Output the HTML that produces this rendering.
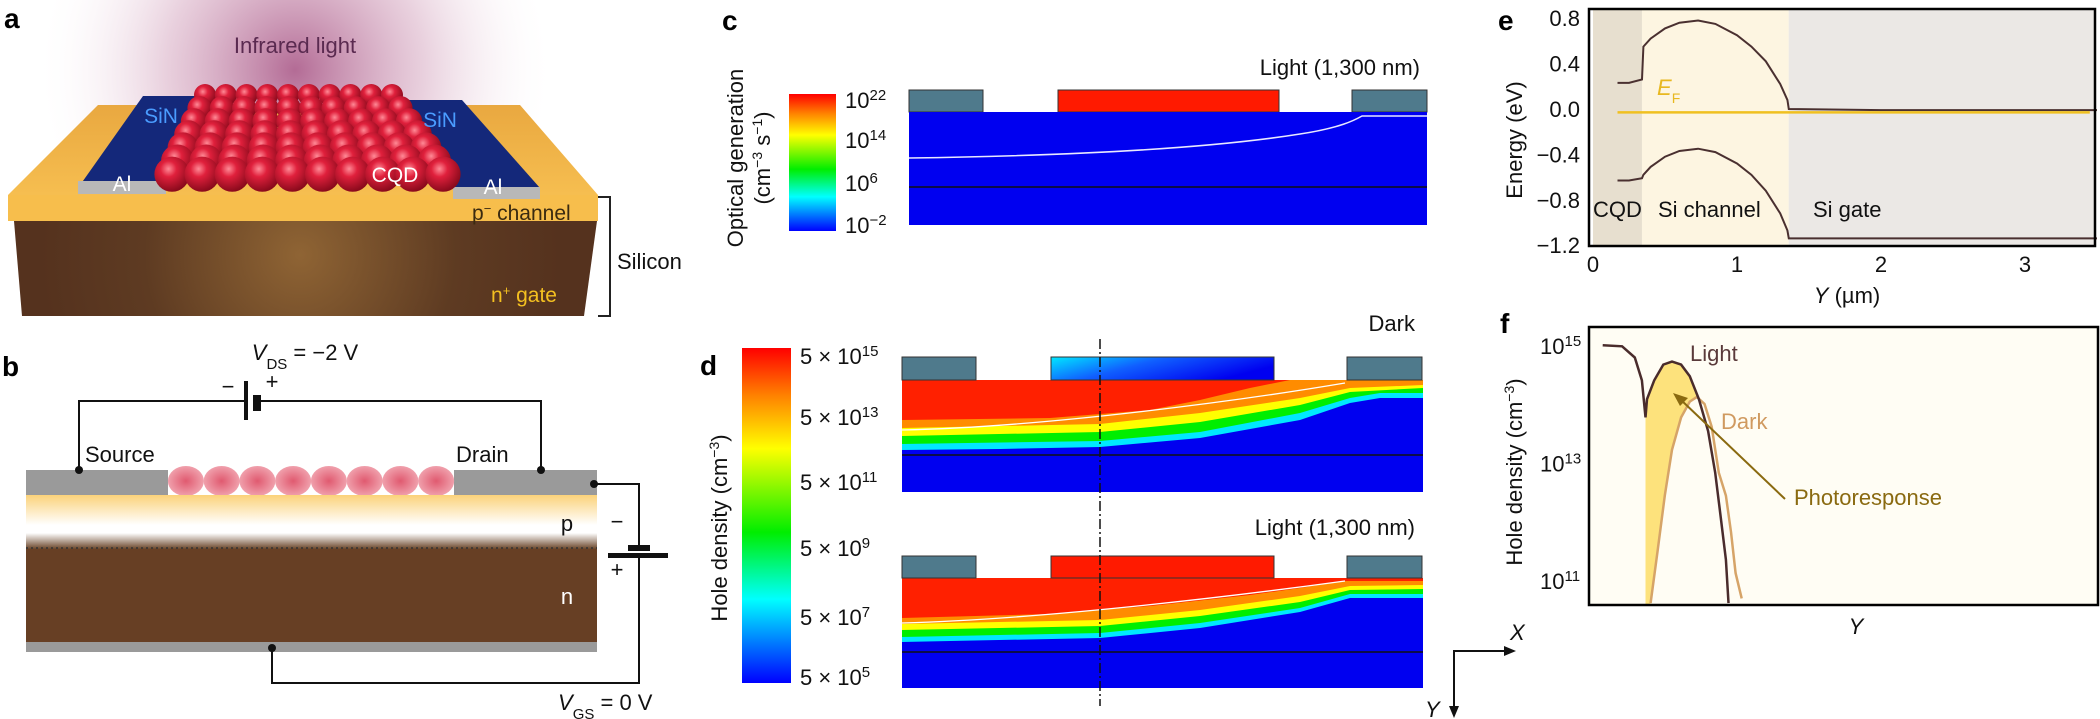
<!DOCTYPE html>
<html><head><meta charset="utf-8">
<style>
html,body{margin:0;padding:0;background:#fff;}
svg{display:block;font-family:"Liberation Sans",Arial,sans-serif;}
.t{font-size:22px;fill:#111;}
.lbl{font-size:28px;font-weight:bold;fill:#000;}
</style></head>
<body>
<svg id="fig" width="2100" height="719" viewBox="0 0 2100 719" xmlns="http://www.w3.org/2000/svg">
<defs>
<radialGradient id="glow" cx="295" cy="70" r="260" gradientUnits="userSpaceOnUse">
<stop offset="0" stop-color="#9a3a72" stop-opacity="0.75"/>
<stop offset="0.5" stop-color="#c07aa0" stop-opacity="0.35"/>
<stop offset="1" stop-color="#ffffff" stop-opacity="0"/>
</radialGradient>
<radialGradient id="brown" cx="300" cy="255" r="260" gradientUnits="userSpaceOnUse">
<stop offset="0" stop-color="#8f6434"/><stop offset="0.6" stop-color="#5e3b22"/><stop offset="1" stop-color="#55321e"/>
</radialGradient>
<linearGradient id="topY" x1="0" y1="0" x2="0" y2="1"><stop offset="0" stop-color="#e9a840"/><stop offset="1" stop-color="#f6be50"/></linearGradient>
<radialGradient id="sph" cx="0.4" cy="0.35" r="0.65"><stop offset="0" stop-color="#ff8a96"/><stop offset="0.35" stop-color="#e0203c"/><stop offset="1" stop-color="#8a0a1c"/></radialGradient>
<radialGradient id="ell" cx="0.5" cy="0.5" r="0.5"><stop offset="0" stop-color="#e05a70"/><stop offset="1" stop-color="#f0a0ac"/></radialGradient>
<linearGradient id="yb" x1="0" y1="0" x2="0" y2="1"><stop offset="0" stop-color="#fbd27a"/><stop offset="1" stop-color="#ffffff"/></linearGradient>
<linearGradient id="bb" x1="0" y1="0" x2="0" y2="1"><stop offset="0" stop-color="#ffffff"/><stop offset="1" stop-color="#6a4428"/></linearGradient>
<linearGradient id="jet" x1="0" y1="0" x2="0" y2="1">
<stop offset="0" stop-color="#ff0000"/><stop offset="0.14" stop-color="#ff8000"/><stop offset="0.3" stop-color="#ffff00"/><stop offset="0.55" stop-color="#00ee00"/><stop offset="0.75" stop-color="#00ffff"/><stop offset="1" stop-color="#0000ff"/>
</linearGradient>
<linearGradient id="cyanblk" x1="0" y1="0" x2="1" y2="0.4"><stop offset="0" stop-color="#00e8ff"/><stop offset="0.45" stop-color="#1060ff"/><stop offset="1" stop-color="#0000f0"/></linearGradient>
</defs>

<!-- Panel a -->
<g>
<text class="lbl" x="4" y="28">a</text>
<rect x="0" y="0" width="620" height="230" fill="url(#glow)"/>
<text x="295" y="53" text-anchor="middle" style="font-size:22px;fill:#5a2a50">Infrared light</text>
<polygon points="8,195 98,105 520,105 598,195" fill="url(#topY)"/>
<rect x="8" y="195" width="590" height="26" fill="#f7be4c"/>
<polygon points="14,221 597,221 584,316 22,316" fill="url(#brown)"/>
<polygon points="78,188 143,96 205,96 168,188" fill="#14287a"/>
<rect x="78" y="181" width="88" height="13" fill="#b8b8b8"/>
<polygon points="400,100 462,100 540,188 453,188" fill="#14287a"/>
<rect x="453" y="187" width="87" height="12" fill="#b8b8b8"/>
<g id="cqd"></g>
<text x="161" y="123" text-anchor="middle" style="font-size:21px;fill:#4a9cff">SiN</text>
<text x="440" y="127" text-anchor="middle" style="font-size:21px;fill:#4a9cff">SiN</text>
<text x="122" y="191" text-anchor="middle" style="font-size:21px;fill:#fff">Al</text>
<text x="493" y="194" text-anchor="middle" style="font-size:21px;fill:#fff">Al</text>
<text x="395" y="182" text-anchor="middle" style="font-size:21px;fill:#fff">CQD</text>
<text x="472" y="220" style="font-size:21px;fill:#3a2a10">p<tspan baseline-shift="super" font-size="13">−</tspan> channel</text>
<text x="491" y="302" style="font-size:21px;fill:#f4c020">n<tspan baseline-shift="super" font-size="13">+</tspan> gate</text>
<path d="M598,197 H610 V316 H598" fill="none" stroke="#222" stroke-width="2"/>
<text x="617" y="269" style="font-size:22px;fill:#111">Silicon</text>
</g>

<!-- Panel b -->
<g>
<text class="lbl" x="2" y="376">b</text>
<text x="305" y="360" text-anchor="middle" class="t"><tspan font-style="italic">V</tspan><tspan baseline-shift="sub" font-size="15">DS</tspan> = −2 V</text>
<path d="M79,470 V401 H246 M256,401 H541 V470" fill="none" stroke="#111" stroke-width="2"/>
<rect x="244" y="381" width="4" height="39" fill="#111"/>
<rect x="253" y="395" width="8" height="16" fill="#111"/>
<text x="228" y="394" text-anchor="middle" class="t">−</text>
<text x="272" y="389" text-anchor="middle" class="t">+</text>
<text x="85" y="462" class="t">Source</text>
<text x="456" y="462" class="t">Drain</text>
<rect x="26" y="470" width="142" height="25" fill="#9a9a9a"/>
<rect x="454" y="470" width="143" height="25" fill="#9a9a9a"/>
<g id="ells"></g>
<rect x="26" y="495" width="571" height="30" fill="url(#yb)"/>
<rect x="26" y="533" width="571" height="16" fill="url(#bb)"/>
<line x1="26" y1="548" x2="597" y2="548" stroke="#333" stroke-width="1.5" stroke-dasharray="2,3"/>
<rect x="26" y="549" width="571" height="93" fill="#673f24"/>
<rect x="26" y="642" width="571" height="10" fill="#9a9a9a"/>
<text x="567" y="531" text-anchor="middle" class="t">p</text>
<text x="567" y="604" text-anchor="middle" style="font-size:22px;fill:#fff">n</text>
<path d="M272,648 V683 H639 V555 M639,548 V484 H594" fill="none" stroke="#111" stroke-width="2"/>
<rect x="628" y="545" width="22" height="6" fill="#111"/>
<rect x="608" y="553" width="60" height="5" fill="#111"/>
<text x="617" y="529" text-anchor="middle" class="t">−</text>
<text x="617" y="577" text-anchor="middle" class="t">+</text>
<circle cx="79" cy="470" r="4" fill="#111"/>
<circle cx="541" cy="470" r="4" fill="#111"/>
<circle cx="594" cy="484" r="4" fill="#111"/>
<circle cx="272" cy="648" r="4" fill="#111"/>
<text x="558" y="710" class="t"><tspan font-style="italic">V</tspan><tspan baseline-shift="sub" font-size="15">GS</tspan>  = 0 V</text>
</g>

<!-- Panel c -->
<g>
<text class="lbl" x="722" y="30">c</text>
<text transform="translate(743,158) rotate(-90)" text-anchor="middle" class="t">Optical generation</text>
<text transform="translate(770,158) rotate(-90)" text-anchor="middle" class="t">(cm<tspan baseline-shift="super" font-size="14">−3</tspan> s<tspan baseline-shift="super" font-size="14">−1</tspan>)</text>
<rect x="789" y="94" width="47" height="137" fill="url(#jet)"/>
<text x="845" y="108" class="t">10<tspan baseline-shift="super" font-size="15">22</tspan></text>
<text x="845" y="148" class="t">10<tspan baseline-shift="super" font-size="15">14</tspan></text>
<text x="845" y="191" class="t">10<tspan baseline-shift="super" font-size="15">6</tspan></text>
<text x="845" y="233" class="t">10<tspan baseline-shift="super" font-size="15">−2</tspan></text>
<text x="1420" y="75" text-anchor="end" class="t">Light (1,300 nm)</text>
<rect x="909" y="90" width="74" height="22" fill="#4f7a8c" stroke="#333" stroke-width="1"/>
<rect x="1058" y="90" width="221" height="22" fill="#ff1a00" stroke="#333" stroke-width="1"/>
<rect x="1352" y="90" width="75" height="22" fill="#4f7a8c" stroke="#333" stroke-width="1"/>
<rect x="909" y="112" width="518" height="113" fill="#0000f0"/>
<line x1="909" y1="187" x2="1427" y2="187" stroke="#111" stroke-width="1.5"/>
<path d="M909,158 C1050,156 1200,150 1300,134 C1340,128 1355,120 1362,116 H1427" fill="none" stroke="#e8e8ff" stroke-width="1.5"/>
</g>

<!-- Panel d -->
<g>
<text class="lbl" x="700" y="375">d</text>
<text transform="translate(727,528) rotate(-90)" text-anchor="middle" class="t">Hole density (cm<tspan baseline-shift="super" font-size="14">−3</tspan>)</text>
<rect x="742" y="348" width="49" height="335" fill="url(#jet)"/>
<g id="dticks"></g>
<text x="1415" y="331" text-anchor="end" class="t">Dark</text>
<text x="1415" y="535" text-anchor="end" class="t">Light (1,300 nm)</text>
<g id="dmaps"></g>
<line x1="1100" y1="339" x2="1100" y2="706" stroke="#111" stroke-width="1.5" stroke-dasharray="10,3,2,3"/>
<path d="M1454,712 V651 H1512" fill="none" stroke="#111" stroke-width="2"/>
<polygon points="1516,651 1504,646 1504,656" fill="#111"/>
<polygon points="1454,718 1449,706 1459,706" fill="#111"/>
<text x="1510" y="640" class="t" font-style="italic">X</text>
<text x="1425" y="717" class="t" font-style="italic">Y</text>
</g>

<!-- Panel e -->
<g id="pe">
<text class="lbl" x="1498" y="30">e</text>
<text transform="translate(1522,140) rotate(-90)" text-anchor="middle" class="t">Energy (eV)</text>
<text x="1847" y="303" text-anchor="middle" class="t"><tspan font-style="italic">Y</tspan> (µm)</text>
</g>

<!-- Panel f -->
<g id="pf">
<text class="lbl" x="1500" y="333">f</text>
<text transform="translate(1522,472) rotate(-90)" text-anchor="middle" class="t">Hole density (cm<tspan baseline-shift="super" font-size="14">−3</tspan>)</text>
<text x="1856" y="634" text-anchor="middle" class="t" font-style="italic">Y</text>
</g>
</svg>

<script>
const NS="http://www.w3.org/2000/svg";
// ---- Panel e data ----
const eX=[0.17,0.25,0.34,0.35,0.4,0.5,0.6,0.73,0.85,1.0,1.1,1.2,1.3,1.35,1.36,2,3,3.5];
const eCB=[0.23,0.23,0.26,0.55,0.62,0.71,0.76,0.78,0.75,0.65,0.55,0.42,0.22,0.08,0.0,-0.01,-0.01,-0.01];
const eVB=[-0.63,-0.63,-0.61,-0.58,-0.51,-0.42,-0.37,-0.35,-0.38,-0.48,-0.58,-0.72,-0.92,-1.07,-1.14,-1.14,-1.14,-1.14];
const eEFx=[0.17,3.45];
const eEF=[-0.03,-0.03];
const eYTicks=[0.8,0.4,0.0,-0.4,-0.8,-1.2];
const eYTickLabels=["0.8","0.4","0.0","−0.4","−0.8","−1.2"];
const eXTicks=[0,1,2,3];
const eRegions=[0,0.34,1.36,3.46];
const eRegionNames=["CQD","Si channel","Si gate"];
// ---- Panel f data ----
const fLightX=[2.7,6.5,9,10.4,11.1,11.4,12.8,14.6,16.3,18.1,19.8,21.6,23.4,24.8,25.8,26.9,27.4];
const fLightY=[14.98,14.96,14.77,14.38,13.75,14.06,14.38,14.65,14.70,14.65,14.45,14.06,13.52,12.81,12.11,11.33,10.59];
const fDarkX=[12.1,13.5,14.9,16.3,18.1,19.8,21.2,22.7,24.1,25.5,26.9,27.9,28.8,30.0];
const fDarkY=[10.59,11.49,12.42,13.20,13.75,14.02,14.10,13.98,13.59,12.81,12.42,11.80,11.10,10.67];
const fYTicks=[15,13,11];

function mk(tag,attrs,parent){const e=document.createElementNS(NS,tag);for(const k in attrs)e.setAttribute(k,attrs[k]);parent.appendChild(e);return e;}

// e axes
const ex=v=>1593+v*144, ey=v=>109-v*113.5;
const pe=document.getElementById('pe');
const regCols=["#e7dfcf","#fdf5e1","#ebe8e5"];
for(let i=0;i<3;i++){
  const r=mk('rect',{x:Math.max(1589,ex(eRegions[i])),y:9,width:ex(eRegions[i+1])-Math.max(1589,ex(eRegions[i])),height:237,fill:regCols[i]},pe);
  
  
}
const rl=mk('rect',{x:ex(eRegions[2]),y:9,width:2095-ex(eRegions[2]),height:237,fill:regCols[2]},pe);


function poly(xs,ys,fx,fy){return xs.map((x,i)=>(i?'L':'M')+fx(x).toFixed(1)+','+fy(ys[i]).toFixed(1)).join(' ');}
const cb=mk('path',{d:poly(eX,eCB,ex,ey),fill:'none',stroke:'#4a3030','stroke-width':2},pe);


const vb=mk('path',{d:poly(eX,eVB,ex,ey),fill:'none',stroke:'#4a3030','stroke-width':2},pe);


const ef=mk('path',{d:poly(eEFx,eEF,ex,ey),fill:'none',stroke:'#f0c020','stroke-width':2.5},pe);


const efl=mk('text',{x:1657,y:95,class:'t',style:'fill:#e8b820;font-style:italic'},pe);


efl.innerHTML='E<tspan baseline-shift="sub" font-size="14" font-style="normal">F</tspan>';
const rx=[1593,1658,1813];
for(let i=0;i<3;i++){
  const t=mk('text',{x:rx[i],y:217,class:'t'},pe);
  
  
  t.textContent=eRegionNames[i];
}
const ebox=mk('rect',{x:1589,y:9,width:506,height:237,fill:'none',stroke:'#000','stroke-width':2.5},pe);


eYTicks.forEach((v,i)=>{
  const t=mk('text',{x:1580,y:ey(v)+8,'text-anchor':'end',class:'t'},pe);
  
  
  t.textContent=eYTickLabels[i];
});
eXTicks.forEach(v=>{
  const t=mk('text',{x:ex(v),y:272,'text-anchor':'middle',class:'t'},pe);
  
  
  t.textContent=String(v);
});

// f
const pf=document.getElementById('pf');
const fx=v=>1589+v*5.09, fy=v=>344+(15-v)*58.75;
const fbg=mk('rect',{x:1589,y:327,width:509,height:278,fill:'#fffdf4'},pf);


// fill: light from its minimum through the crossing, then dark back down
let fillD='M'+fx(fLightX[4])+','+fy(10.56);
for(let i=4;i<fLightX.length;i++){ if(fLightX[i]>21.4) break; fillD+=' L'+fx(fLightX[i])+','+fy(fLightY[i]); }
for(let i=fDarkX.length-1;i>=0;i--){ if(fDarkX[i]>21.4) continue; fillD+=' L'+fx(fDarkX[i])+','+fy(fDarkY[i]); }
fillD+=' L'+fx(fDarkX[0])+','+fy(10.56)+' Z';
const ff=mk('path',{d:fillD,fill:'#fde27c'},pf);


const dk=mk('path',{d:poly(fDarkX,fDarkY,fx,fy),fill:'none',stroke:'#d6a468','stroke-width':2.5},pf);


const lt=mk('path',{d:poly(fLightX,fLightY,fx,fy),fill:'none',stroke:'#4a2c2c','stroke-width':2.5},pf);


const fbox=mk('rect',{x:1589,y:327,width:509,height:278,fill:'none',stroke:'#000','stroke-width':2.5},pf);


fYTicks.forEach(v=>{
  const t=mk('text',{x:1540,y:fy(v)+10,class:'t'},pf);
  
  
  t.innerHTML='10<tspan baseline-shift="super" font-size="15">'+v+'</tspan>';
});
const l1=mk('text',{x:1690,y:361,style:'font-size:22px;fill:#5a3a3a'},pf);


l1.textContent='Light';
const l2=mk('text',{x:1721,y:429,style:'font-size:22px;fill:#d09a60'},pf);


l2.textContent='Dark';
const l3=mk('text',{x:1794,y:505,style:'font-size:22px;fill:#8a6a10'},pf);


l3.textContent='Photoresponse';
const ar=mk('line',{x1:1785,y1:499,x2:1680,y2:399,stroke:'#8a6a10','stroke-width':2},pf);


const ah=mk('polygon',{points:'1673,393 1688,398 1680,406',fill:'#8a6a10'},pf);



// d ticks
const dTickExp=[15,13,11,9,7,5];
const dTickY=[356,417,482,548,617,677];
const dt=document.getElementById('dticks');
dTickExp.forEach((v,i)=>{
  const t=mk('text',{x:800,y:dTickY[i]+8,class:'t'},dt);
  
  
  t.innerHTML='5 × 10<tspan baseline-shift="super" font-size="15">'+v+'</tspan>';
});

// d maps
const dm=document.getElementById('dmaps');
function map(top,siTop,junc,bot,midFill,bands,tag){
  const L=902,R=1423;
  const bg=mk('rect',{x:L,y:siTop,width:R-L,height:bot-siTop,fill:'#0000f0'},dm);
  
  
  const cols=['#00e8ff','#00ee00','#ffff00','#ff8c00','#ff2000'];
  bands.forEach((b,k)=>{
    let d='M'+L+','+siTop;
    for(const p of b) d+=' L'+p[0]+','+p[1];
    d+=' L'+b[b.length-1][0]+','+siTop+' Z';
    const pth=mk('path',{d:d,fill:cols[k],stroke:k==4?'none':'none'},dm);
    
    
  });
  const jl=mk('line',{x1:L,y1:junc,x2:R,y2:junc,stroke:'#111','stroke-width':1.5},dm);
  
  
  const p1=mk('rect',{x:L,y:top,width:74,height:siTop-top,fill:'#4f7a8c',stroke:'#333'},dm);
  
  
  const p2=mk('rect',{x:1051,y:top,width:223,height:siTop-top,fill:midFill,stroke:'#333'},dm);
  
  
  const p3=mk('rect',{x:1347,y:top,width:75,height:siTop-top,fill:'#4f7a8c',stroke:'#333'},dm);
  
  
  const ct=mk('path',{d:'M'+L+','+(bands[1][0][1]-14)+' C1050,'+(bands[1][1][1]-14)+' 1250,'+(bands[1][3][1]-14)+' 1345,'+(siTop+3),fill:'none',stroke:'#fff','stroke-width':1.3},dm);
  
  
}
map(357,380,455,492,'url(#cyanblk)',[
 [[902,450],[1000,449],[1100,447],[1200,438],[1300,420],[1350,403],[1380,398],[1423,398]],
 [[902,444],[1100,441],[1200,432],[1300,413],[1350,398],[1380,393],[1423,393]],
 [[902,436],[1100,432],[1200,422],[1300,405],[1350,392],[1423,388]],
 [[902,428],[1100,424],[1200,413],[1300,398],[1350,388],[1423,385]],
 [[902,420],[1050,418],[1150,410],[1200,400],[1250,388],[1290,380]]
],'d-dark');
map(556,578,652,688,'#ff1a00',[
 [[902,642],[1100,638],[1200,628],[1300,612],[1350,598],[1380,598],[1423,598]],
 [[902,637],[1100,633],[1200,623],[1300,608],[1350,594],[1380,594],[1423,594]],
 [[902,630],[1100,626],[1200,616],[1300,602],[1350,590],[1423,589]],
 [[902,624],[1100,620],[1200,610],[1300,596],[1350,586],[1423,585]],
 [[902,618],[1050,614],[1150,606],[1250,595],[1300,588],[1345,581],[1423,581]]
],'d-light');

// CQD spheres panel a
const cq=document.getElementById('cqd');
for(let r=0;r<7;r++){
  const y=95+r*13.2, x0=205-r*5.5, x1=392+r*8.5, rad=11+r*1.1;
  for(let c=0;c<10;c++){
    const s=mk('circle',{cx:x0+(x1-x0)*c/9,cy:y,r:rad,fill:'url(#sph)'},cq);
    
    
  }
}
// ellipses panel b
const el=document.getElementById('ells');
for(let i=0;i<8;i++){
  const e=mk('ellipse',{cx:168+17.9+i*35.75,cy:481,rx:18,ry:15,fill:'url(#ell)'},el);
  
  
}
</script>
</body></html>
